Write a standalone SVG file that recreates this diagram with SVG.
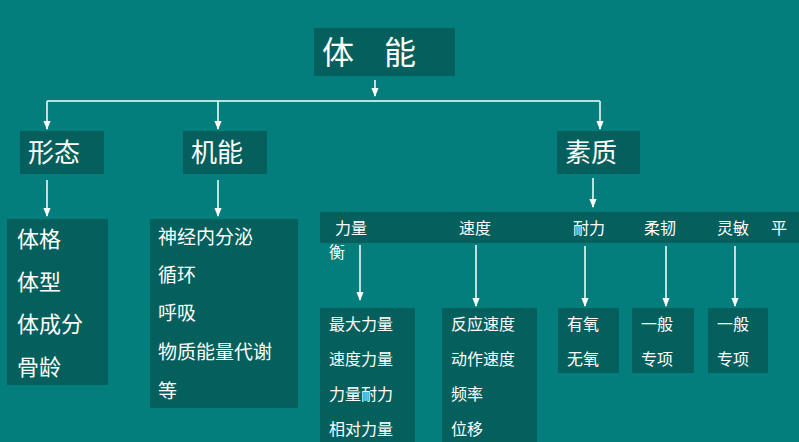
<svg xmlns="http://www.w3.org/2000/svg" width="799" height="442" viewBox="0 0 799 442">
<style>
.b{fill:#055f5d}
text{fill:#fff;font-family:"Liberation Sans","Noto Sans CJK SC",sans-serif}
.l{stroke:#fff;stroke-width:1.5;fill:none}
.a{stroke:#fff;stroke-width:1.5;fill:none;marker-end:url(#m)}
.s{font-size:16px}
</style>
<defs><marker id="m" viewBox="0 0 10 10" refX="9" refY="5" markerWidth="6" markerHeight="6" orient="auto"><path d="M0,1 L10,5 L0,9 z" fill="#fff"/></marker></defs>
<rect width="799" height="442" fill="#037e7d"/>
<g id="tineng"><rect class="b" x="314" y="28" width="141" height="48"/><text y="64" font-size="32"><tspan x="322">体</tspan><tspan x="384">能</tspan></text></g>
<g id="xingtai"><rect class="b" x="20" y="131" width="84" height="43"/><text x="28" y="162" font-size="26">形态</text></g>
<g id="jineng"><rect class="b" x="183" y="131" width="84" height="43"/><text x="191" y="162" font-size="26">机能</text></g>
<g id="suzhi"><rect class="b" x="557" y="131" width="83" height="43"/><text x="565" y="162" font-size="26">素质</text></g>
<g id="xingtai-list"><rect class="b" x="7" y="219" width="101" height="166"/>
<text font-size="22" x="17"><tspan x="17" y="247">体格</tspan><tspan x="17" y="290">体型</tspan><tspan x="17" y="332">体成分</tspan><tspan x="17" y="375">骨龄</tspan></text></g>
<g id="jineng-list"><rect class="b" x="150" y="219" width="148" height="189"/>
<text font-size="19"><tspan x="158" y="244">神经内分泌</tspan><tspan x="158" y="282">循环</tspan><tspan x="158" y="320">呼吸</tspan><tspan x="158" y="359">物质能量代谢</tspan><tspan x="158" y="398">等</tspan></text></g>
<g id="bar"><rect class="b" x="320" y="212" width="479" height="31"/>
<text class="s"><tspan x="335" y="234">力量</tspan><tspan x="459" y="234">速度</tspan><tspan x="573" y="234">耐力</tspan><tspan x="644" y="234">柔韧</tspan><tspan x="717" y="234">灵敏</tspan><tspan x="771" y="234">平</tspan><tspan x="329" y="258">衡</tspan></text></g>
<g id="liliang"><rect class="b" x="320" y="308" width="95" height="134"/><text class="s"><tspan x="329" y="330">最大力量</tspan><tspan x="329" y="365">速度力量</tspan><tspan x="329" y="400">力量耐力</tspan><tspan x="329" y="435">相对力量</tspan></text></g>
<g id="sudu"><rect class="b" x="442" y="308" width="95" height="134"/><text class="s"><tspan x="451" y="330">反应速度</tspan><tspan x="451" y="365">动作速度</tspan><tspan x="451" y="400">频率</tspan><tspan x="451" y="435">位移</tspan></text></g>
<g id="naili"><rect class="b" x="558" y="308" width="61" height="65"/><text class="s"><tspan x="567" y="330">有氧</tspan><tspan x="567" y="365">无氧</tspan></text></g>
<g id="rouren"><rect class="b" x="632" y="308" width="62" height="65"/><text class="s"><tspan x="641" y="330">一般</tspan><tspan x="641" y="365">专项</tspan></text></g>
<g id="lingmin"><rect class="b" x="708" y="308" width="60" height="65"/><text class="s"><tspan x="717" y="330">一般</tspan><tspan x="717" y="365">专项</tspan></text></g>
<g id="connectors">
<path class="a" d="M375,80 V96"/>
<path class="l" d="M47,101 H600"/>
<path class="a" d="M47,101 V129"/><path class="a" d="M218,101 V129"/><path class="a" d="M600,101 V129"/>
<path class="a" d="M47,180 V216"/><path class="a" d="M218,180 V216"/><path class="a" d="M593,178 V207"/>
<path class="a" d="M360,245 V300"/><path class="a" d="M476,245 V306"/><path class="a" d="M585,246 V306"/><path class="a" d="M666,246 V306"/><path class="a" d="M735,246 V306"/>
</g>
</svg>
